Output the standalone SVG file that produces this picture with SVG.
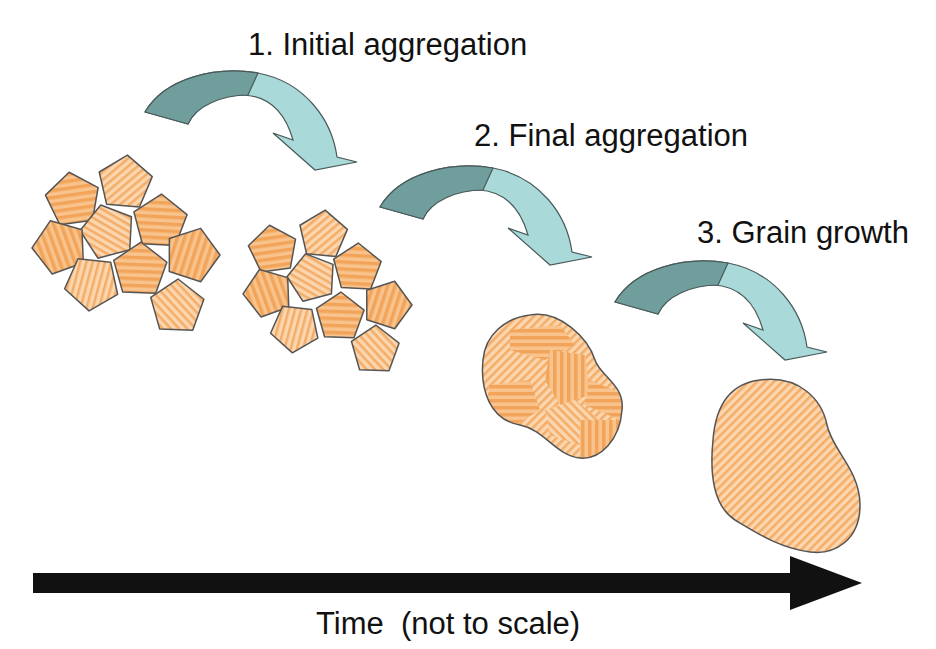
<svg xmlns="http://www.w3.org/2000/svg" width="936" height="649" viewBox="0 0 936 649">
<defs>
<pattern id="ph" width="8" height="7" patternUnits="userSpaceOnUse"><rect width="8" height="7" fill="#f8c38c"/><rect width="8" height="3.5" fill="#f2a55a"/></pattern>
<pattern id="pv" width="7" height="8" patternUnits="userSpaceOnUse"><rect width="7" height="8" fill="#f8c38c"/><rect width="3.5" height="8" fill="#f2a55a"/></pattern>
<pattern id="pd" width="6" height="6" patternUnits="userSpaceOnUse" patternTransform="rotate(45)"><rect width="6" height="6" fill="#fbd6ae"/><rect width="6" height="2.5" fill="#f3ad68"/></pattern>
<pattern id="pd2" width="6" height="6" patternUnits="userSpaceOnUse" patternTransform="rotate(-45)"><rect width="6" height="6" fill="#fbd6ae"/><rect width="6" height="2.5" fill="#f3ad68"/></pattern>
<polygon id="pent" points="0,-28 26.6,-8.7 16.5,22.7 -16.5,22.7 -26.6,-8.7"/>
<polygon id="pent2" points="0,-25 23.8,-7.7 14.7,20.2 -14.7,20.2 -23.8,-7.7"/>
<clipPath id="b1"><path d="M530,315 C560,310 588,338 595,360 C600,376 625,385 622,410 C620,440 600,460 580,458 C555,455 545,430 520,425 C490,420 480,390 483,360 C485,335 505,318 530,315 Z"/></clipPath>
<g id="arrow">
<path d="M145,112 C165,78 215,66 258,73 C305,82 332,120 337,157 L357,162 L315,170 L273,133 L293,140 C285,112 268,96 243,95 C218,95 196,106 188,124 Z" fill="#a9d9d9" stroke="#4a5a5a" stroke-width="1.2"/>
<path d="M145,112 C165,78 215,66 258,73 L248,95 C222,95 196,106 188,124 Z" fill="#6f9e9c" stroke="#4a5a5a" stroke-width="1.2" stroke-linejoin="round"/>
</g>
</defs>
<style>
.p{stroke:#555;stroke-width:1.5;stroke-linejoin:round}
.t{font-family:"Liberation Sans",Arial,sans-serif;font-size:31px;fill:#111}
</style>
<g id="labels">
<text class="t" x="248" y="55">1. Initial aggregation</text>
<text class="t" x="474" y="146">2. Final aggregation</text>
<text class="t" x="697" y="243">3. Grain growth</text>
<text class="t" x="316" y="634" xml:space="preserve">Time  (not to scale)</text>
</g>
<g id="connectors">
<use href="#arrow"/>
<use href="#arrow" transform="translate(235,95)"/>
<use href="#arrow" transform="translate(470,190)"/>
<polygon points="33,573 790,573 790,556 862,583 790,610 790,593 33,593" fill="#111"/>
</g>
<g id="cluster1">
<use href="#pent" class="p" fill="url(#ph)" transform="translate(73,200) rotate(-8)"/>
<use href="#pent" class="p" fill="url(#pd2)" transform="translate(125,183) rotate(5)"/>
<use href="#pent" class="p" fill="url(#pd)" transform="translate(108,232) rotate(-15)"/>
<use href="#pent" class="p" fill="url(#ph)" transform="translate(160,222) rotate(3)"/>
<use href="#pent" class="p" fill="url(#pv)" transform="translate(60,247) rotate(-20)"/>
<use href="#pent" class="p" fill="url(#ph)" transform="translate(140,270) rotate(2)"/>
<use href="#pent" class="p" fill="url(#pv)" transform="translate(192,255) rotate(18)"/>
<use href="#pent" class="p" fill="url(#pd2)" transform="translate(92,283) rotate(-30)"/>
<use href="#pent" class="p" fill="url(#pd)" transform="translate(177,307) rotate(2)"/>
</g>
<g id="cluster2">
<use href="#pent2" class="p" fill="url(#ph)" transform="translate(273,250) rotate(-8)"/>
<use href="#pent2" class="p" fill="url(#pd2)" transform="translate(323,235) rotate(5)"/>
<use href="#pent2" class="p" fill="url(#pd)" transform="translate(312,278) rotate(-15)"/>
<use href="#pent2" class="p" fill="url(#ph)" transform="translate(357,268) rotate(3)"/>
<use href="#pent2" class="p" fill="url(#pv)" transform="translate(268,293) rotate(-20)"/>
<use href="#pent2" class="p" fill="url(#ph)" transform="translate(340,317) rotate(2)"/>
<use href="#pent2" class="p" fill="url(#pv)" transform="translate(387,305) rotate(18)"/>
<use href="#pent2" class="p" fill="url(#pd2)" transform="translate(295,328) rotate(-30)"/>
<use href="#pent2" class="p" fill="url(#pd)" transform="translate(375,350) rotate(2)"/>
</g>
<g id="blob1">
<g clip-path="url(#b1)">
<rect x="480" y="310" width="150" height="155" fill="url(#pd2)"/>
<polygon points="510,330 560,325 575,345 545,360 510,350" fill="url(#ph)"/>
<polygon points="550,350 585,355 590,395 560,405 545,380" fill="url(#pv)"/>
<polygon points="590,380 625,395 620,420 585,405" fill="url(#ph)"/>
<polygon points="490,385 530,380 540,410 515,425 485,410" fill="url(#ph)"/>
<polygon points="545,410 575,400 600,420 580,445 550,435" fill="url(#pd)"/>
<polygon points="580,420 620,420 615,455 580,460" fill="url(#pv)"/>
</g>
<path d="M530,315 C560,310 588,338 595,360 C600,376 625,385 622,410 C620,440 600,460 580,458 C555,455 545,430 520,425 C490,420 480,390 483,360 C485,335 505,318 530,315 Z" fill="none" stroke="#555" stroke-width="1.5"/>
</g>
<g id="blob2">
<path d="M760,380 C800,375 822,400 827,425 C832,450 860,470 860,505 C860,540 835,555 810,552 C780,548 760,535 735,520 C712,505 710,470 713,440 C716,400 735,383 760,380 Z" fill="url(#pd2)" stroke="#555" stroke-width="1.5"/>
</g>
</svg>
